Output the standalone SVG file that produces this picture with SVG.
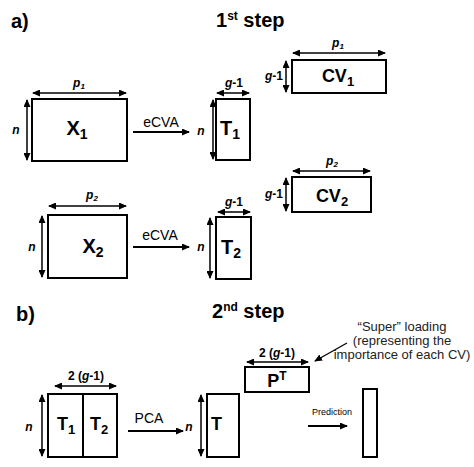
<svg xmlns="http://www.w3.org/2000/svg" width="474" height="467" viewBox="0 0 474 467">
<defs>
<marker id="ah" markerUnits="userSpaceOnUse" markerWidth="8" markerHeight="7" refX="7" refY="3.5" orient="auto-start-reverse">
<path d="M0,0 L8,3.5 L0,7 Z" fill="#000"/>
</marker>
<style>
.box{fill:#fff;stroke:#000;stroke-width:2}
.dim{stroke:#000;stroke-width:1.5;fill:none;marker-start:url(#ah);marker-end:url(#ah)}
.arr{stroke:#000;stroke-width:2;fill:none;marker-end:url(#ah)}
.ptr{stroke:#000;stroke-width:1.3;fill:none;marker-end:url(#ah)}
text{font-family:"Liberation Sans",Arial,sans-serif;fill:#000}
.big{font-size:20px;font-weight:bold}
.mid{font-size:18px;font-weight:bold}
.hd{font-size:20px;font-weight:bold}
.dl{font-size:12px;font-weight:bold}
.it{font-style:italic}
.lab{font-size:14px}
.note{font-size:13px;fill:#222}
.c{text-anchor:middle}
</style>
</defs>
<rect width="474" height="467" fill="#fff"/>

<text class="hd" x="11" y="28">a)</text>
<text class="hd" x="216" y="27">1<tspan font-size="12" dy="-7">st</tspan><tspan dy="7"> step</tspan></text>
<text class="hd" x="16" y="321">b)</text>
<text class="hd" x="212" y="318">2<tspan font-size="12" dy="-7">nd</tspan><tspan dy="7"> step</tspan></text>

<g id="X1">
<rect class="box" x="32" y="99" width="95" height="62"/>
<text class="big c" x="77" y="135">X<tspan font-size="14" dy="4">1</tspan></text>
<line class="dim" x1="33" y1="93" x2="126" y2="93"/>
<text class="dl it c" x="79" y="87">p<tspan font-size="8" dy="2">1</tspan></text>
<line class="dim" x1="27" y1="100" x2="27" y2="160"/>
<text class="dl it c" x="16" y="134">n</text>
</g>

<g id="T1">
<rect class="box" x="216" y="99" width="34" height="61"/>
<text class="big" x="220" y="135">T<tspan font-size="14" dy="4">1</tspan></text>
<line class="dim" x1="217" y1="93" x2="249" y2="93"/>
<text class="dl c" x="234" y="87"><tspan class="it">g</tspan>-1</text>
<line class="dim" x1="213" y1="100" x2="213" y2="159"/>
<text class="dl it c" x="201" y="135">n</text>
</g>

<g id="CV1">
<rect class="box" x="292" y="60" width="94" height="33"/>
<text class="mid c" x="338" y="82">CV<tspan font-size="13" dy="4">1</tspan></text>
<line class="dim" x1="293" y1="53" x2="385" y2="53"/>
<text class="dl it c" x="338" y="47">p<tspan font-size="8" dy="2">1</tspan></text>
<line class="dim" x1="286" y1="61" x2="286" y2="92"/>
<text class="dl" text-anchor="end" x="283" y="80"><tspan class="it">g</tspan>-1</text>
</g>

<g id="X2">
<rect class="box" x="48" y="215" width="79" height="63"/>
<text class="big c" x="93" y="253">X<tspan font-size="14" dy="4">2</tspan></text>
<line class="dim" x1="49" y1="206" x2="126" y2="206"/>
<text class="dl it c" x="92" y="199">p<tspan font-size="8" dy="2">2</tspan></text>
<line class="dim" x1="42" y1="216" x2="42" y2="277"/>
<text class="dl it c" x="32" y="251">n</text>
</g>

<g id="T2">
<rect class="box" x="216" y="217" width="35" height="62"/>
<text class="big" x="221" y="254">T<tspan font-size="14" dy="4">2</tspan></text>
<line class="dim" x1="218" y1="212" x2="250" y2="212"/>
<text class="dl c" x="234" y="206"><tspan class="it">g</tspan>-1</text>
<line class="dim" x1="210" y1="218" x2="210" y2="278"/>
<text class="dl it c" x="201" y="251">n</text>
</g>

<g id="CV2">
<rect class="box" x="292" y="177" width="79" height="35"/>
<text class="mid c" x="332" y="202">CV<tspan font-size="13" dy="4">2</tspan></text>
<line class="dim" x1="293" y1="171" x2="370" y2="171"/>
<text class="dl it c" x="332" y="165">p<tspan font-size="8" dy="2">2</tspan></text>
<line class="dim" x1="286" y1="178" x2="286" y2="211"/>
<text class="dl" text-anchor="end" x="283" y="198"><tspan class="it">g</tspan>-1</text>
</g>

<g id="T1T2">
<rect class="box" x="48" y="394" width="69" height="63"/>
<line x1="83" y1="394" x2="83" y2="457" stroke="#000" stroke-width="2"/>
<text class="mid c" x="66" y="430">T<tspan font-size="13" dy="4">1</tspan></text>
<text class="mid c" x="99" y="430">T<tspan font-size="13" dy="4">2</tspan></text>
<line class="dim" x1="55" y1="386" x2="116" y2="386"/>
<text class="dl c" x="86" y="380">2 (<tspan class="it">g</tspan>-1)</text>
<line class="dim" x1="42" y1="395" x2="42" y2="456"/>
<text class="dl it c" x="29" y="431">n</text>
</g>

<g id="T">
<rect class="box" x="207" y="394" width="32" height="63"/>
<text class="mid" x="211" y="430">T</text>
<line class="dim" x1="201" y1="395" x2="201" y2="456"/>
<text class="dl it c" x="189" y="431">n</text>
</g>

<g id="PT">
<rect class="box" x="245" y="367" width="64" height="25"/>
<text class="mid c" x="277" y="387">P<tspan font-size="12" dy="-7">T</tspan></text>
<line class="dim" x1="247" y1="362" x2="308" y2="362"/>
<text class="dl c" x="277" y="357">2 (<tspan class="it">g</tspan>-1)</text>
</g>

<g id="note">
<text class="note c" x="402" y="331">“Super” loading</text>
<text class="note c" x="402" y="345">(representing the</text>
<text class="note c" x="402" y="359">importance of each CV)</text>
</g>

<g id="pred">
<rect class="box" x="363" y="389" width="14" height="68"/>
</g>

<g id="connectors">
<line class="arr" x1="133" y1="132" x2="189" y2="132"/>
<text class="lab c" x="161" y="127">eCVA</text>
<line class="arr" x1="133" y1="247" x2="189" y2="247"/>
<text class="lab c" x="160" y="240">eCVA</text>
<line class="arr" x1="128" y1="431" x2="183" y2="431"/>
<text class="lab c" x="149" y="423">PCA</text>
<line class="arr" x1="308" y1="426" x2="347" y2="426"/>
<text class="c" font-size="9" x="332" y="415">Prediction</text>
<line class="ptr" x1="347" y1="343" x2="315" y2="361"/>
</g>
</svg>
